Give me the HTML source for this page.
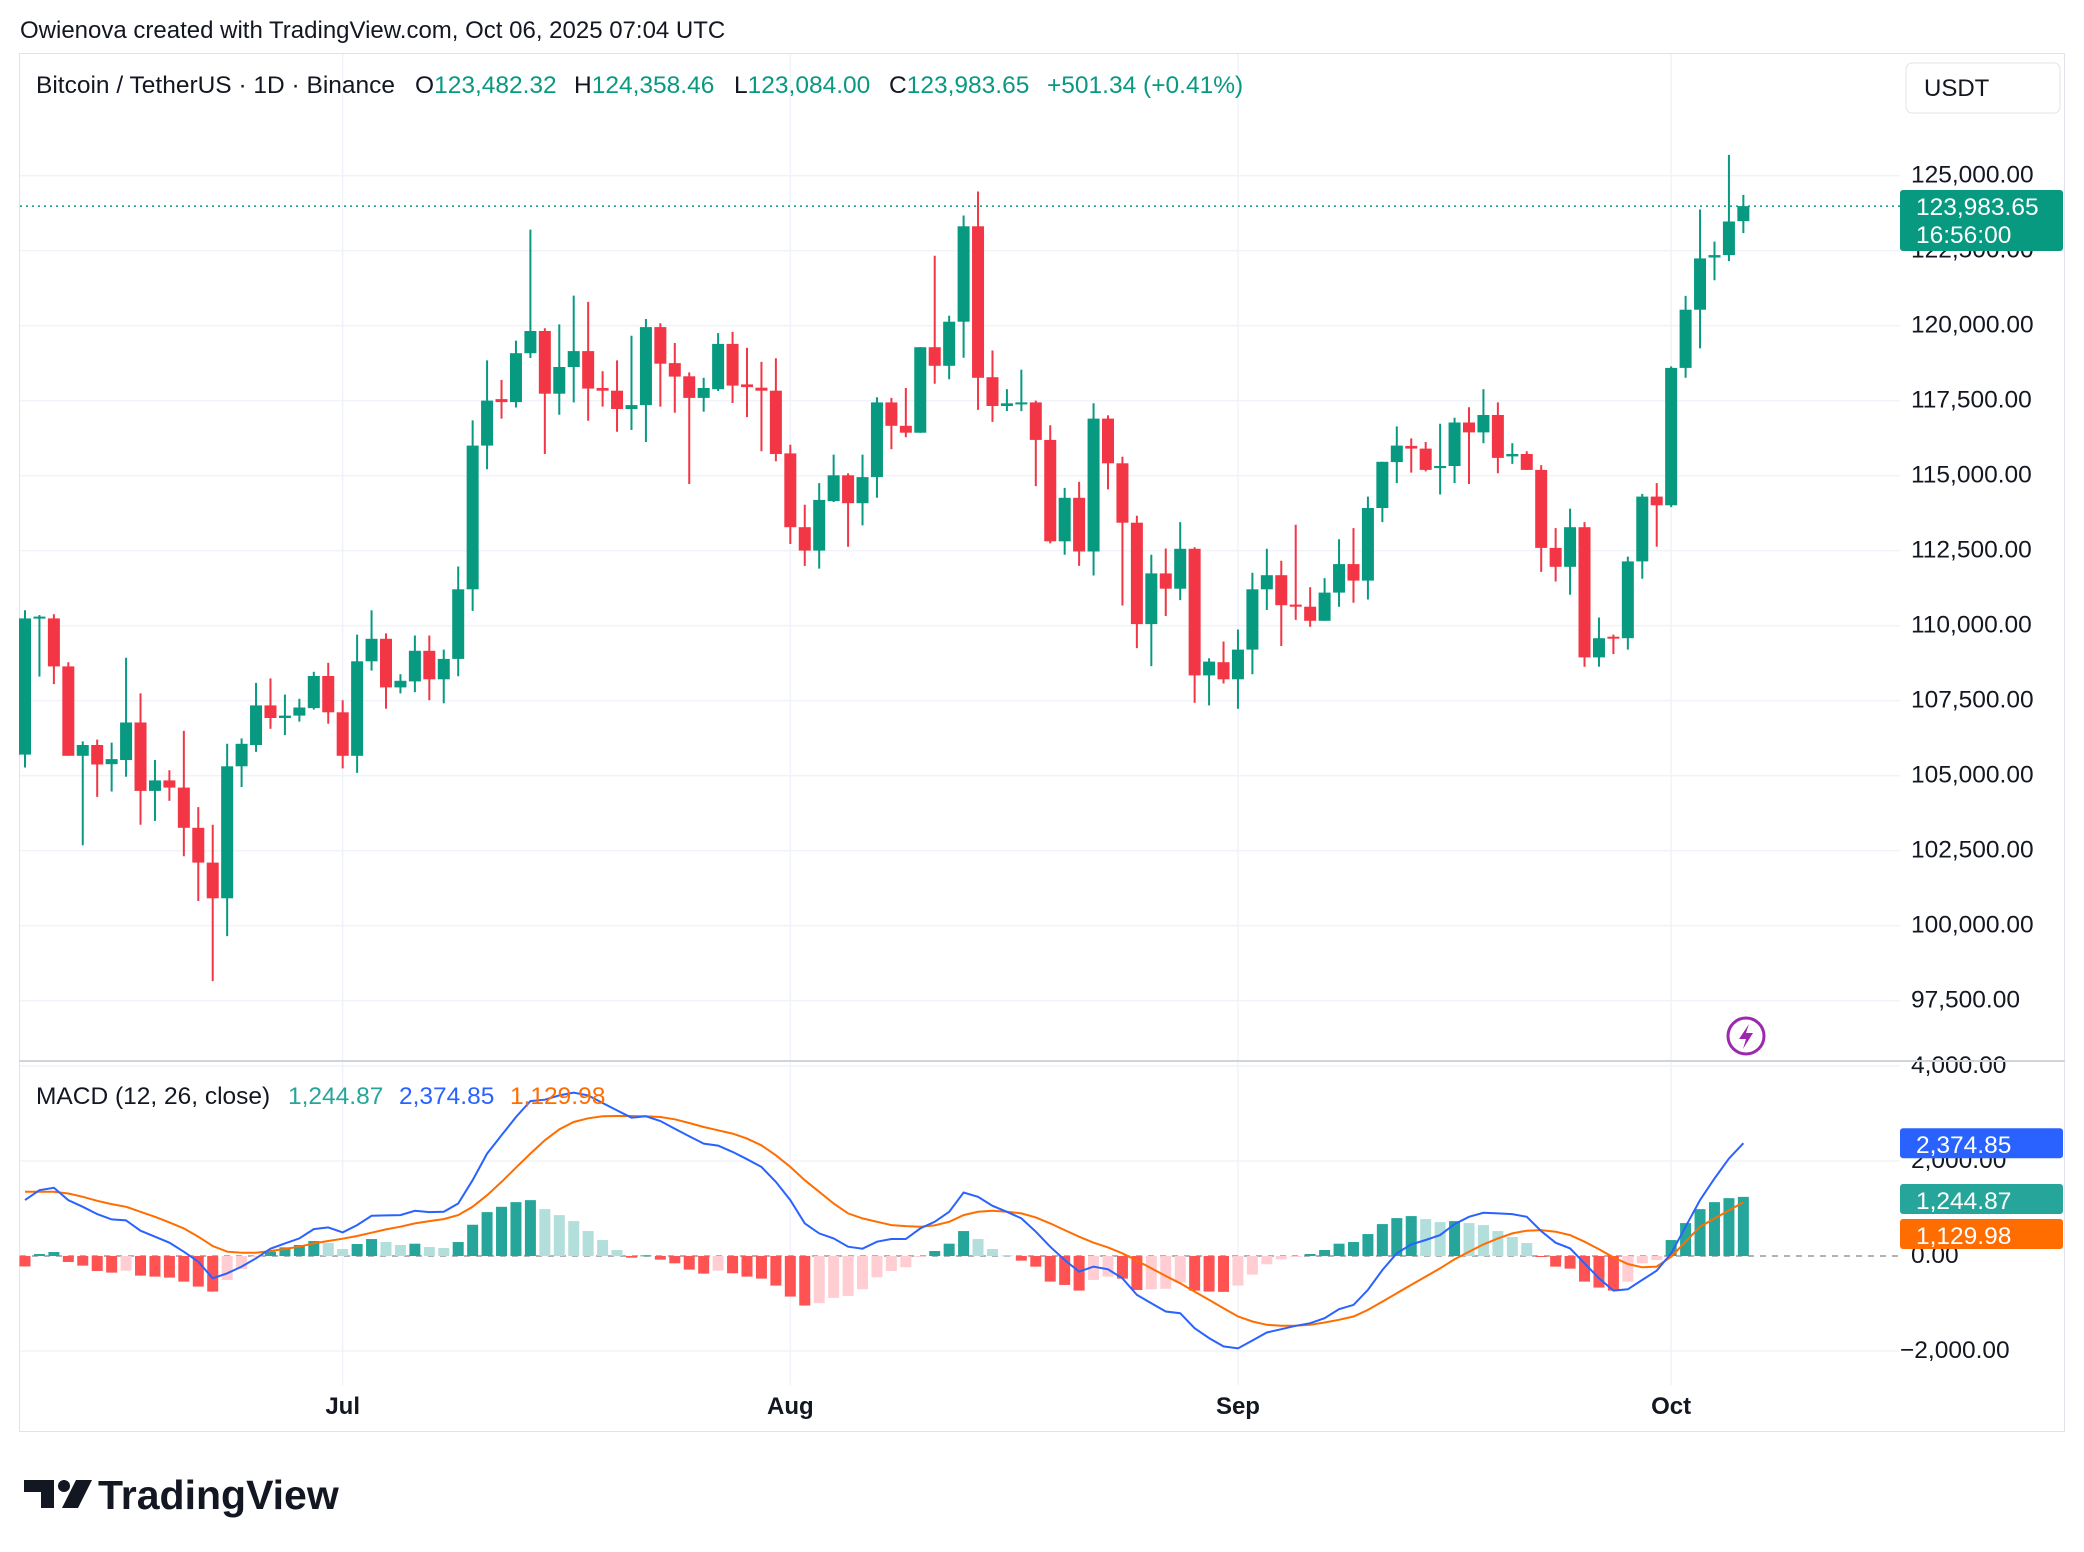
<!DOCTYPE html>
<html><head><meta charset="utf-8"><style>
html,body{margin:0;padding:0;background:#fff;}
svg{display:block;font-family:"Liberation Sans",sans-serif;}
</style></head><body>
<svg id="chart" width="2084" height="1552" viewBox="0 0 2084 1552" xmlns="http://www.w3.org/2000/svg">
<text x="20" y="38" font-size="24" fill="#131722">Owienova created with TradingView.com, Oct 06, 2025 07:04 UTC</text>
<rect x="19.5" y="53.5" width="2045" height="1378" fill="none" stroke="#e0e3eb" stroke-width="1"/>
<g id="grid"></g>
<g id="candles"></g>
<g id="macd"></g>
<line x1="19" y1="1061" x2="2065" y2="1061" stroke="#d1d4dc" stroke-width="2"/>
<g font-size="24.5">
<text x="36" y="93" fill="#131722">Bitcoin / TetherUS · 1D · Binance</text>
<text x="415" y="93" fill="#131722">O<tspan fill="#089981">123,482.32</tspan></text>
<text x="574" y="93" fill="#131722">H<tspan fill="#089981">124,358.46</tspan></text>
<text x="734" y="93" fill="#131722">L<tspan fill="#089981">123,084.00</tspan></text>
<text x="889" y="93" fill="#131722">C<tspan fill="#089981">123,983.65</tspan></text>
<text x="1047" y="93" fill="#089981">+501.34 (+0.41%)</text>
</g>
<g>
<rect x="1906" y="63" width="154" height="50" rx="6" fill="#fff" stroke="#e0e3eb"/>
<text x="1924" y="96" font-size="24" fill="#131722">USDT</text>
</g>
<g font-size="24.5">
<text x="36" y="1104" fill="#131722">MACD (12, 26, close)</text>
<text x="288" y="1104" fill="#26a69a">1,244.87</text>
<text x="399" y="1104" fill="#2962ff">2,374.85</text>
<text x="510" y="1104" fill="#ff6d00">1,129.98</text>
</g>
<g>
<circle cx="1746" cy="1036" r="18" fill="#fff" stroke="#9c27b0" stroke-width="3"/>
<path d="M1749 1024 L1739 1039 L1746 1039 L1743 1049 L1753 1033 L1746 1033 Z" fill="#9c27b0"/>
</g>
<g font-size="24" font-weight="bold" fill="#131722" id="xaxis"></g>
<g>
<path d="M24 1480 h30 v28 h-13 v-16 h-17 z" fill="#131722"/>
<circle cx="64" cy="1486" r="6" fill="#131722"/>
<path d="M76 1480 h16 l-14 28 h-16 z" fill="#131722"/>
<text x="98" y="1509" font-size="41" font-weight="bold" fill="#131722">TradingView</text>
</g>
</svg>
<script>
const opens=[105700,110250,110240,108640,105660,106020,105380,105520,106770,104490,104840,104600,103260,102100,100910,105310,106020,107340,106920,107000,107250,108320,107110,105660,108810,109560,107940,108140,109160,108210,108890,111210,116000,117550,117450,119080,119820,117730,118620,119150,117920,117830,117220,117350,119950,118750,118310,117590,117880,119390,118040,117930,117830,115740,113280,112500,114150,115010,114080,114950,117440,116660,116430,119280,118660,120130,123310,118280,117320,117410,117440,116190,112810,114260,112470,116900,115410,113430,110050,111740,111230,112560,108340,108780,108210,109200,111210,111680,110700,110630,110160,111100,112050,111500,113920,115450,115990,115900,115250,115320,116770,116440,117020,115640,115720,115190,112590,111960,113280,108940,109630,109580,112140,114300,114010,118590,120530,122270,122350,123482];
const highs=[110510,110350,110380,108780,106140,106200,106100,108930,107740,105520,105180,106490,103950,103360,106060,106240,108090,108240,107700,107560,108460,108760,107510,109700,110510,109740,108380,109670,109670,109200,111970,116840,118840,118190,119500,123200,119910,120040,121000,120790,118480,118840,119660,120220,120080,119420,118440,118260,119750,119790,119260,118790,118910,116030,114030,114750,115700,115080,115700,117610,117590,117920,119280,122330,120330,123670,124470,119170,117880,118530,117500,116680,114590,114790,117410,117010,115630,113660,112360,112570,113450,112610,108910,109470,109870,111760,112560,112160,113360,111280,111580,112880,113250,114300,115460,116640,116240,116120,116730,116930,117280,117880,117440,116080,115810,115350,113250,113900,113450,110270,109700,112300,114390,114750,118640,120990,123870,122800,125690,124358];
const lows=[105270,108300,108050,105660,102680,104290,104470,104960,103360,103490,104160,102310,100820,98150,99650,104620,105790,106560,106350,106800,107200,106730,105240,105090,108500,107230,107740,107780,107510,107410,108310,110490,115210,116900,117270,118920,115720,117030,117440,116830,117300,116460,116520,116120,117300,117100,114720,117130,117820,117420,116950,115810,115480,112720,111990,111900,114120,112630,113340,114260,115880,116280,116430,118060,118210,118930,117190,116790,117150,117150,114650,112740,112360,111990,111670,114540,110670,109250,108650,110320,110850,107430,107340,108070,107230,108380,110520,109320,110190,109960,110160,110630,110760,110870,113450,114750,115100,115140,114370,114750,114720,116080,115080,115390,115190,111790,111470,111030,108630,108630,109050,109200,111560,112630,113950,118260,119240,121510,122150,123084];
const closes=[110240,110300,108640,105660,106020,105370,105550,106770,104490,104840,104600,103260,102100,100910,105310,106060,107340,106920,107000,107270,108320,107110,105660,108810,109560,107940,108160,109160,108210,108890,111210,116000,117500,117450,119080,119820,117730,118620,119150,117900,117830,117220,117350,119950,118730,118300,117590,117920,119390,118000,117950,117830,115720,113280,112500,114190,115010,114080,114950,117440,116660,116430,119280,118660,120130,123310,118260,117320,117410,117440,116190,112810,114260,112470,116900,115410,113430,110050,111740,111230,112560,108340,108800,108210,109200,111210,111680,110680,110630,110160,111100,112050,111500,113920,115460,116000,115900,115190,115320,116770,116440,117020,115590,115720,115190,112590,111960,113280,108940,109580,109580,112140,114300,114010,118590,120530,122240,122350,123470,123983];
const histValues=[-220,42,84,-126,-203,-315,-350,-308,-413,-434,-455,-539,-644,-749,-504,-273,-20,91,182,231,315,273,147,252,357,294,231,259,189,168,294,658,924,1036,1134,1176,987,861,735,525,336,126,-35,14,-77,-154,-287,-371,-308,-364,-434,-476,-623,-854,-1043,-994,-882,-840,-700,-448,-315,-238,-20,105,259,525,357,147,14,-98,-224,-539,-609,-728,-504,-434,-476,-716,-700,-690,-560,-728,-749,-755,-623,-392,-175,-70,-14,42,126,259,294,462,672,798,840,777,714,735,693,651,525,399,273,-10,-224,-266,-539,-665,-728,-539,-154,-84,336,693,987,1134,1218,1245];
const macdValues=[1176,1386,1435,1176,1036,882,770,749,532,406,280,91,-119,-469,-364,-224,-49,154,266,371,567,602,497,651,847,854,861,952,924,931,1106,1596,2156,2541,2926,3262,3290,3381,3437,3381,3220,3066,2912,2940,2842,2681,2520,2366,2324,2191,2037,1876,1561,1176,686,476,371,196,154,301,357,357,581,721,931,1337,1246,1057,931,791,511,196,-84,-329,-224,-280,-469,-819,-994,-1169,-1204,-1519,-1729,-1904,-1946,-1778,-1610,-1540,-1470,-1414,-1309,-1120,-1029,-714,-294,56,245,336,441,672,826,910,896,882,826,525,280,161,-154,-469,-728,-700,-504,-308,56,616,1176,1631,2051,2375];
const signalValues=[1351,1351,1351,1316,1246,1162,1092,1036,931,826,707,581,406,210,91,70,70,105,147,196,266,315,364,420,490,560,616,686,735,777,861,1036,1281,1561,1862,2156,2436,2667,2821,2898,2940,2947,2947,2940,2926,2877,2800,2716,2646,2576,2471,2331,2121,1876,1596,1351,1106,896,791,721,651,630,616,644,721,861,931,952,931,896,812,686,546,406,280,182,56,-98,-259,-420,-574,-749,-924,-1099,-1274,-1379,-1449,-1470,-1470,-1449,-1400,-1344,-1274,-1134,-959,-784,-609,-434,-259,-70,91,245,371,476,532,546,511,441,301,140,-28,-168,-238,-224,-14,301,616,790,960,1130];
const priceTicks=[125000,122500,120000,117500,115000,112500,110000,107500,105000,102500,100000,97500];
const priceTickLabels=["125,000.00","122,500.00","120,000.00","117,500.00","115,000.00","112,500.00","110,000.00","107,500.00","105,000.00","102,500.00","100,000.00","97,500.00"];
const macdTicks=[4000,2000,0,-2000];
const macdTickLabels=["4,000.00","2,000.00","0.00","\u22122,000.00"];
const monthLabels=["Jul","Aug","Sep","Oct"];
const monthIndex=[22,53,84,114];
const lastPrice=123983.65;

const NS="http://www.w3.org/2000/svg";
const xOf=i=>25+i*14.44;
const yP=p=>175.6+(125000-p)*0.03;
const yM=v=>1256-v*0.0475;
function mk(tag,attrs,parent){const e=document.createElementNS(NS,tag);for(const k in attrs)e.setAttribute(k,attrs[k]);parent.appendChild(e);return e;}
const grid=document.getElementById('grid'),cg=document.getElementById('candles'),mg=document.getElementById('macd'),xa=document.getElementById('xaxis'),svg=document.getElementById('chart');

priceTicks.forEach((p,k)=>{
 const l=mk('line',{x1:20,x2:1900,y1:yP(p),y2:yP(p),stroke:'#f0f3fa','stroke-width':1.5},grid);
 
 
 const t=mk('text',{x:1911,y:yP(p)+7,'font-size':24.5,fill:'#131722'},grid);
 t.textContent=priceTickLabels[k];
 
 
});
macdTicks.forEach((v,k)=>{
 if(v!==0){const l=mk('line',{x1:20,x2:1900,y1:yM(v),y2:yM(v),stroke:'#f0f3fa','stroke-width':1.5},grid);
 
 }
 const t=mk('text',{x:v<0?1900:1911,y:yM(v)+7,'font-size':24.5,fill:'#131722'},grid);
 t.textContent=macdTickLabels[k];
 
 
});
monthIndex.forEach((mi,k)=>{
 const x=xOf(mi);
 const l=mk('line',{x1:x,x2:x,y1:54,y2:1385,stroke:'#f0f3fa','stroke-width':1.5},grid);
 
 
 const t=mk('text',{x:x,y:1414,'text-anchor':'middle'},xa);
 t.textContent=monthLabels[k];
 
 
});
const pl=mk('line',{x1:20,x2:1900,y1:yP(lastPrice),y2:yP(lastPrice),stroke:'#089981','stroke-width':1.5,'stroke-dasharray':'2 4'},cg);



opens.forEach((o,i)=>{
 const c=closes[i],up=c>=o,col=up?'#089981':'#f23645',x=xOf(i);
 const g=mk('g',{},cg);
 
 
 mk('line',{x1:x,x2:x,y1:yP(highs[i]),y2:yP(lows[i]),stroke:col,'stroke-width':2},g);
 const top=yP(Math.max(o,c)),h=Math.max(2,Math.abs(yP(o)-yP(c)));
 mk('rect',{x:x-6,y:top,width:12,height:h,fill:col},g);
});
const zl=mk('line',{x1:20,x2:1900,y1:yM(0),y2:yM(0),stroke:'#9598a1','stroke-width':1.5,'stroke-dasharray':'6 6'},mg);


histValues.forEach((v,i)=>{
 const prev=i>0?histValues[i-1]:v;
 const col=v>=0?(v>=prev?'#26a69a':'#b2dfdb'):(v<=prev?'#ff5252':'#ffcdd2');
 const y0=yM(0),y1=yM(v);
 const r=mk('rect',{x:xOf(i)-5.5,y:Math.min(y0,y1),width:11,height:Math.max(1,Math.abs(y1-y0)),fill:col},mg);
 
 
});
function line(vals,col,name){
 const d=vals.map((v,i)=>(i?'L':'M')+xOf(i).toFixed(1)+' '+yM(v).toFixed(1)).join(' ');
 const p=mk('path',{d:d,fill:'none',stroke:col,'stroke-width':2},mg);
 
 
}
line(signalValues,'#ff6d00','signal-line');
line(macdValues,'#2962ff','macd-line');

function badge(y,h,bg,lines,name){
 const g=mk('g',{},svg);
 
 
 mk('rect',{x:1900,y:y,width:163,height:h,rx:3,fill:bg},g);
 lines.forEach((s,k)=>{const t=mk('text',{x:1916,y:y+25+k*28,'font-size':24.5,fill:'#fff'},g);t.textContent=s;});
}
badge(190,61,'#089981',['123,983.65','16:56:00'],'last-price-badge');
badge(yM(macdValues[119])-15,30,'#2962ff',['2,374.85'],'macd-value-badge');
badge(1184,30,'#26a69a',['1,244.87'],'histogram-value-badge');
badge(1219,30,'#ff6d00',['1,129.98'],'signal-value-badge');
</script>
</body></html>
